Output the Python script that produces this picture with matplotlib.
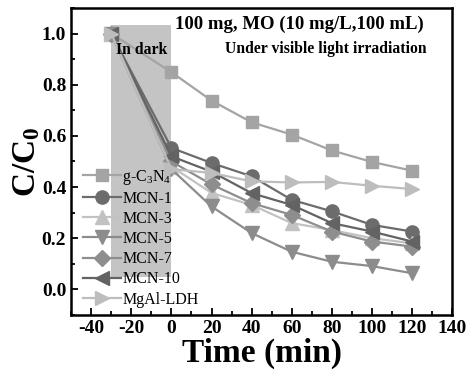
import matplotlib
matplotlib.use("Agg")
import matplotlib.pyplot as plt
from matplotlib.ticker import MultipleLocator

plt.rcParams['font.family'] = 'Liberation Serif'
plt.rcParams['mathtext.fontset'] = 'custom'
plt.rcParams['mathtext.rm'] = 'Liberation Serif'
plt.rcParams['mathtext.bf'] = 'Liberation Serif:bold'
plt.rcParams['axes.unicode_minus'] = False

# data
time = [-30, 0, 20, 40, 60, 80, 100, 120]
g_c3n4 = [1.0, 0.849, 0.738, 0.653, 0.605, 0.543, 0.498, 0.464]
mcn1 = [1.0, 0.553, 0.494, 0.442, 0.350, 0.305, 0.252, 0.226]
mcn3 = [1.0, 0.480, 0.377, 0.330, 0.259, 0.232, 0.200, 0.180]
mcn5 = [1.0, 0.470, 0.324, 0.220, 0.147, 0.108, 0.091, 0.063]
mcn7 = [1.0, 0.500, 0.410, 0.337, 0.291, 0.226, 0.187, 0.167]
mcn10 = [1.0, 0.520, 0.460, 0.376, 0.330, 0.259, 0.226, 0.187]
mgal = [1.0, 0.470, 0.455, 0.422, 0.418, 0.420, 0.405, 0.392]

labels = ['g-C$_3$N$_4$', 'MCN-1', 'MCN-3', 'MCN-5', 'MCN-7', 'MCN-10', 'MgAl-LDH']
series = [g_c3n4, mcn1, mcn3, mcn5, mcn7, mcn10, mgal]
markers = ['s', 'o', '^', 'v', 'D', '<', '>']
colors = ['#a4a4a4', '#6c6c6c', '#c2c2c2', '#8c8c8c', '#8e8e8e', '#636363', '#bdbdbd']
sizes = [9, 9.5, 10, 10, 8, 10, 10]

fig = plt.figure(figsize=(4.74, 3.79), dpi=100)
ax = fig.add_axes([0.150, 0.169, 0.804, 0.810])

# dark period
ax.fill_between([-30, 0], 0.05, 1.035, color='#c4c4c4', lw=0, zorder=0)

for y, lab, m, c, s in zip(series, labels, markers, colors, sizes):
    ax.plot(time, y, marker=m, color=c, label=lab, markersize=s, lw=1.6, zorder=2)

ax.set_xlim(-50, 140)
ax.set_ylim(-0.1, 1.1)
ax.xaxis.set_major_locator(MultipleLocator(20))
ax.xaxis.set_minor_locator(MultipleLocator(10))
ax.yaxis.set_major_locator(MultipleLocator(0.2))
ax.yaxis.set_minor_locator(MultipleLocator(0.1))
ax.tick_params(which='both', direction='in', width=1.3)
ax.tick_params(which='major', length=5, labelsize=14)
ax.tick_params(which='minor', length=3)
for lab in ax.get_xticklabels() + ax.get_yticklabels():
    lab.set_fontweight('bold')
for sp in ax.spines.values():
    sp.set_linewidth(1.8)

ax.set_xlabel('Time (min)', fontsize=24, fontweight='bold', labelpad=1)
ax.set_ylabel(r'$\mathbf{C/C_0}$', fontsize=24, labelpad=0)

ax.text(64, 1.036, '100 mg, MO (10 mg/L,100 mL)', fontsize=13.5, fontweight='bold',
        ha='center', va='center')
ax.text(77, 0.94, 'Under visible light irradiation', fontsize=11.3, fontweight='bold',
        ha='center', va='center')
ax.text(-15, 0.935, 'In dark', fontsize=11.3, fontweight='bold', ha='center', va='center')

ax.legend(loc='upper left', bbox_to_anchor=(0.03, 0.48), frameon=False, fontsize=11.5,
          handlelength=2.4, labelspacing=0.26, borderpad=0, borderaxespad=0,
          handletextpad=0.1, markerscale=1.0)

fig.savefig('out.png', dpi=100)
